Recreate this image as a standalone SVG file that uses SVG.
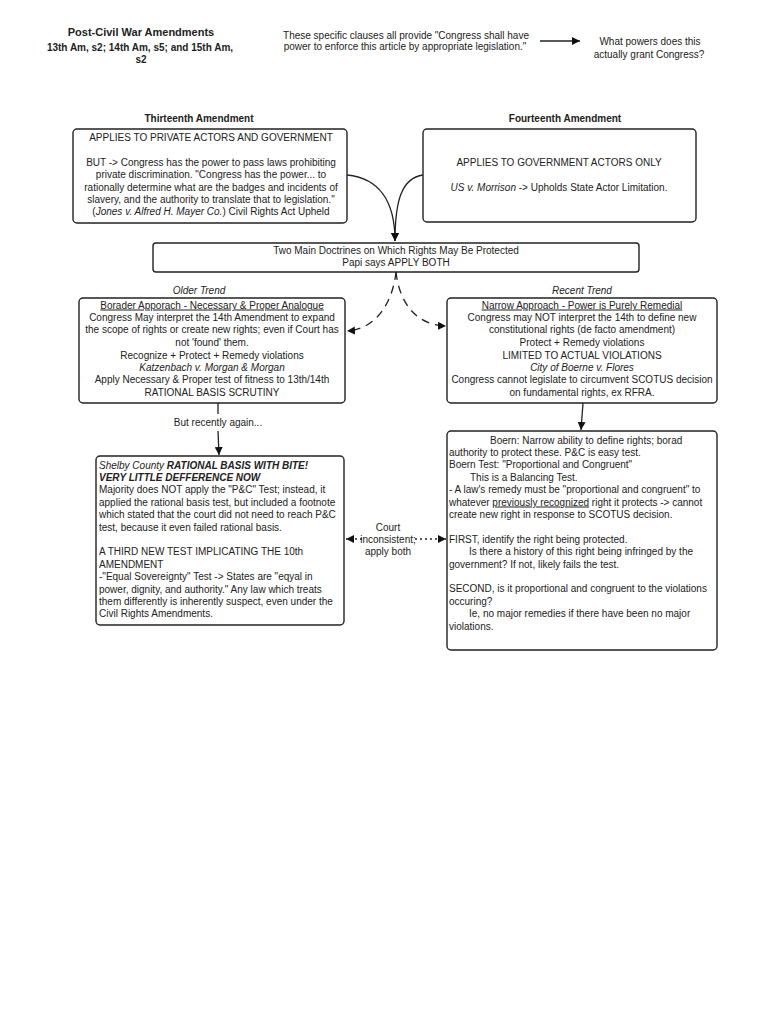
<svg xmlns="http://www.w3.org/2000/svg" width="768" height="1024" viewBox="0 0 768 1024">
<style>
text{font-family:"Liberation Sans",Arial,sans-serif;font-size:10px;fill:#222}
.b{font-weight:bold}
.i{font-style:italic}
.u{text-decoration:underline}
.c{text-anchor:middle}
.box{fill:#fff;stroke:#222;stroke-width:1.4}
.ln{fill:none;stroke:#222;stroke-width:1.3}
.dash{stroke-dasharray:8 6}
.dot{stroke-dasharray:2 3}
</style>
<defs>
<marker id="ah" viewBox="0 0 10 10" refX="10" refY="5" markerWidth="8" markerHeight="8" markerUnits="userSpaceOnUse" orient="auto"><path d="M0,0 L10,5 L0,10 z" fill="#111"/></marker>
</defs>
<rect width="768" height="1024" fill="#fff"/>

<g id="header">
<text class="c b" x="141" y="36" style="font-size:11px">Post-Civil War Amendments</text>
<text class="c b" x="140" y="50.5">13th Am, s2; 14th Am, s5; and 15th Am,</text>
<text class="c b" x="141" y="62.5">s2</text>
</g>
<g id="clauses">
<text class="c" x="406" y="38.5">These specific clauses all provide "Congress shall have</text>
<text class="c" x="405" y="50">power to enforce this article by appropriate legislation."</text>
</g>
<g id="question">
<text class="c" x="650" y="45">What powers does this</text>
<text class="c" x="649" y="57.5">actually grant Congress?</text>
</g>

<g id="connectors">
<path class="ln" d="M540,41 L580,41" marker-end="url(#ah)"/>
<path class="ln" d="M347,175 C378,178 395,200 395,241" marker-end="url(#ah)"/>
<path class="ln" d="M423,175 C402,178 395,200 395,241" marker-end="url(#ah)"/>
<path class="ln dash" d="M396,272 C393,300 378,329 347,331" marker-end="url(#ah)"/>
<path class="ln dash" d="M396,272 C399,300 414,325 446,326" marker-end="url(#ah)"/>
<path class="ln" d="M218,403 L218,414"/>
<path class="ln" d="M218,431 L219,455" marker-end="url(#ah)"/>
<path class="ln" d="M583,403 L581,430" marker-end="url(#ah)"/>
<path class="ln dot" d="M362,539 L346,539" marker-end="url(#ah)"/>
<path class="ln dot" d="M415,539 L446,539" marker-end="url(#ah)"/>
<text class="c" x="388" y="531">Court</text>
<text class="c" x="388" y="542.5">inconsistent;</text>
<text class="c" x="388" y="555">apply  both</text>
<text class="c" x="218" y="425.5">But recently again...</text>
</g>

<g id="thirteenth">
<text class="c b" x="199" y="121.5">Thirteenth Amendment</text>
<rect class="box" x="73" y="129" width="274" height="94" rx="4"/>
<text class="c" x="211" y="140.5">APPLIES TO PRIVATE ACTORS AND GOVERNMENT</text>
<text class="c" x="211" y="166">BUT -&gt; Congress has the power to pass laws prohibiting</text>
<text class="c" x="211" y="178.3">private discrimination. "Congress has the power... to</text>
<text class="c" x="211" y="190.6">rationally determine what are the badges and incidents of</text>
<text class="c" x="211" y="202.9">slavery, and the authority to translate that to legislation."</text>
<text class="c" x="211" y="215.2">(<tspan class="i">Jones v. Alfred H. Mayer Co.</tspan>) Civil Rights Act Upheld</text>
</g>

<g id="fourteenth">
<text class="c b" x="565" y="121.5">Fourteenth Amendment</text>
<rect class="box" x="423" y="129" width="273" height="93" rx="4"/>
<text class="c" x="559" y="165.5">APPLIES TO GOVERNMENT ACTORS ONLY</text>
<text class="c" x="559" y="190.5"><tspan class="i">US v. Morrison</tspan> -&gt; Upholds State Actor Limitation.</text>
</g>

<g id="doctrines">
<rect class="box" x="153" y="243" width="486" height="29" rx="3"/>
<text class="c" x="396" y="253.5">Two Main Doctrines on Which Rights May Be Protected</text>
<text class="c" x="396" y="266">Papi says APPLY BOTH</text>
</g>

<g id="broader">
<text class="c i" x="199" y="293.5">Older Trend</text>
<rect class="box" x="79" y="298" width="266" height="105" rx="4"/>
<text class="c u" x="212" y="308.5">Borader Apporach - Necessary &amp; Proper Analogue</text>
<text class="c" x="212" y="321">Congress May interpret the 14th Amendment to expand</text>
<text class="c" x="212" y="333.4">the scope of rights or create new rights; even if Court has</text>
<text class="c" x="212" y="345.8">not 'found' them.</text>
<text class="c" x="212" y="358.6">Recognize + Protect + Remedy violations</text>
<text class="c i" x="212" y="371">Katzenbach v. Morgan &amp; Morgan</text>
<text class="c" x="212" y="383.4">Apply Necessary &amp; Proper test of fitness to 13th/14th</text>
<text class="c" x="212" y="395.8">RATIONAL BASIS SCRUTINY</text>
</g>

<g id="narrow">
<text class="c i" x="582" y="293.5">Recent Trend</text>
<rect class="box" x="447" y="298" width="270" height="105" rx="4"/>
<text class="c u" x="582" y="308.5">Narrow Approach - Power is Purely Remedial</text>
<text class="c" x="582" y="321">Congress may NOT interpret the 14th to define new</text>
<text class="c" x="582" y="333.4">constitutional rights (de facto amendment)</text>
<text class="c" x="582" y="345.8">Protect + Remedy violations</text>
<text class="c" x="582" y="358.6">LIMITED TO ACTUAL VIOLATIONS</text>
<text class="c i" x="582" y="371">City of Boerne v. Flores</text>
<text class="c" x="582" y="383.4">Congress cannot legislate to circumvent SCOTUS decision</text>
<text class="c" x="582" y="395.8">on fundamental rights, ex RFRA.</text>
</g>

<g id="shelby">
<rect class="box" x="96" y="456" width="248" height="169" rx="4"/>
<text x="99" y="468.5"><tspan class="i">Shelby County </tspan><tspan class="i b">RATIONAL BASIS WITH BITE!</tspan></text>
<text class="i b" x="99" y="480.9">VERY LITTLE DEFFERENCE NOW</text>
<text x="99" y="493.3">Majority does NOT apply the "P&amp;C" Test; instead, it</text>
<text x="99" y="505.7">applied the rational basis test, but included a footnote</text>
<text x="99" y="518.1">which stated that the court did not need to reach P&amp;C</text>
<text x="99" y="530.5">test, because it even failed rational basis.</text>
<text x="99" y="555.3">A THIRD NEW TEST IMPLICATING THE 10th</text>
<text x="99" y="567.7">AMENDMENT</text>
<text x="99" y="580.1">-"Equal Sovereignty" Test -&gt; States are "eqyal in</text>
<text x="99" y="592.5">power, dignity, and authority." Any law which treats</text>
<text x="99" y="604.9">them differently is inherently suspect, even under the</text>
<text x="99" y="617.3">Civil Rights Amendments.</text>
</g>

<g id="boerne">
<rect class="box" x="447" y="431" width="270" height="219" rx="4"/>
<text x="490" y="443.5">Boern: Narrow ability to define rights; borad</text>
<text x="449" y="455.9">authority to protect these. P&amp;C is easy test.</text>
<text x="449" y="468.3">Boern Test: "Proportional and Congruent"</text>
<text x="470" y="480.7">This is a Balancing Test.</text>
<text x="449" y="493.1">- A law's remedy must be "proportional and congruent" to</text>
<text x="449" y="505.5">whatever <tspan class="u">previously recognized</tspan> right it protects -&gt; cannot</text>
<text x="449" y="517.9">create new right in response to SCOTUS decision.</text>
<text x="449" y="542.7">FIRST, identify the right being protected.</text>
<text x="469" y="555.1">Is there a history of this right being infringed by the</text>
<text x="449" y="567.5">government? If not, likely fails the test.</text>
<text x="449" y="592.3">SECOND, is it proportional and congruent to the violations</text>
<text x="449" y="604.7">occuring?</text>
<text x="469" y="617.1">Ie, no major remedies if there have been no major</text>
<text x="449" y="629.5">violations.</text>
</g>
</svg>
